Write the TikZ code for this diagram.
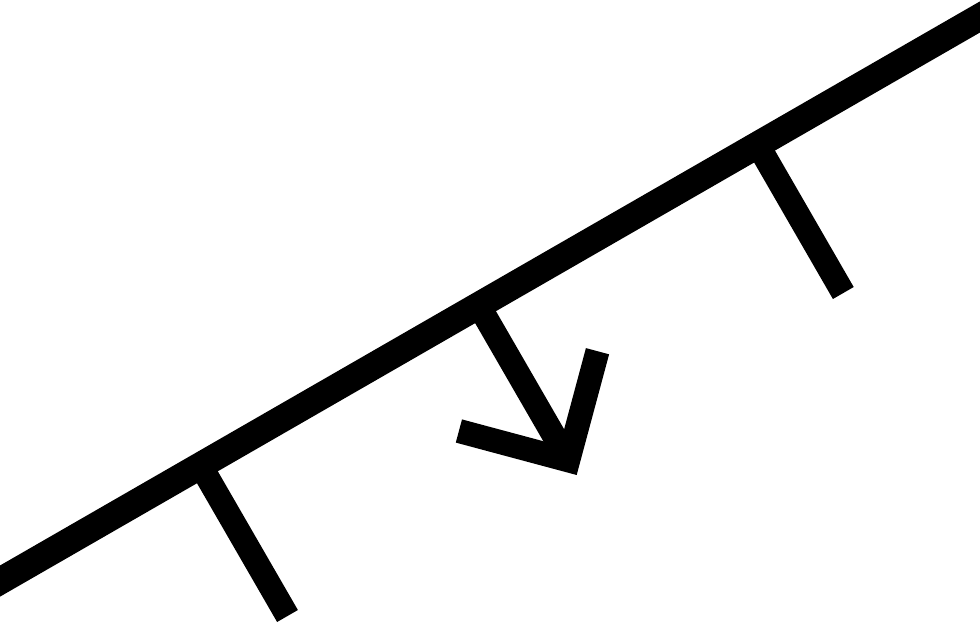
\documentclass[tikz,border=0pt]{standalone}
\begin{document}
\begin{tikzpicture}[x=1pt,y=-1pt,
  mainline/.style={line width=27pt,black},
  tickline/.style={line width=24pt,black,line cap=butt,line join=miter}]
\useasboundingbox (0,0) rectangle (980,622);
\clip (0,0) rectangle (980,622);
\coordinate (L0) at (-40,604.1);
\coordinate (L1) at (1020,-6.1);
\coordinate (t1) at (200.5,465.3);
\coordinate (t1e) at (287.5,616);
\coordinate (t2) at (478.4,304.8);
\coordinate (apex) at (568.2,460.3);
\coordinate (armL) at (458.9,431.0);
\coordinate (armR) at (597.5,351.2);
\coordinate (t3) at (757.2,143.8);
\coordinate (t3e) at (843.3,293);
\draw[tickline] (t1) -- (t1e);
\draw[tickline] (t3) -- (t3e);
\draw[tickline] (t2) -- (apex);
\draw[tickline] (armL) -- (apex) -- (armR);
\draw[mainline] (L0) -- (L1);
\end{tikzpicture}
\end{document}
